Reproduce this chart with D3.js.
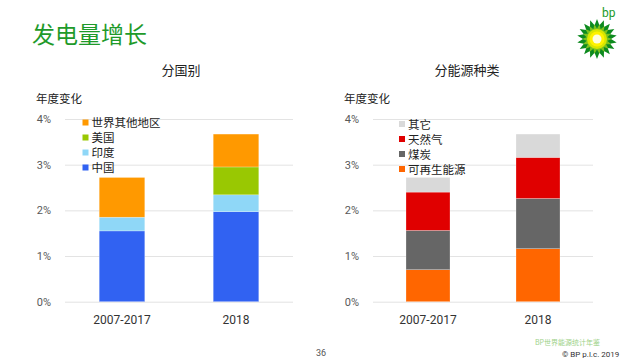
<!DOCTYPE html>
<html>
<head>
<meta charset="utf-8">
<script src="https://cdn.jsdelivr.net/npm/d3@7"></script>
<style>
  body { margin: 0; background: #fff; }
  svg { font-family: Roboto, "Noto Sans CJK SC", sans-serif; }
</style>
</head>
<body>
<svg id="chart" width="640" height="360"></svg>
<script>
// data
var periods = ['2007-2017', '2018'];
var yTicks = [0, 0.01, 0.02, 0.03, 0.04];

var regionNames = ['中国', '印度', '美国', '世界其他地区'];
var regionColors = ['#3162f2', '#8fd7f7', '#99c802', '#ff9900'];
var china = [0.0155, 0.0197];
var india = [0.0030, 0.0037];
var usa = [0.0000, 0.0061];
var restOfWorld = [0.0087, 0.0072];

var fuelNames = ['可再生能源', '煤炭', '天然气', '其它'];
var fuelColors = ['#ff6600', '#666666', '#e00000', '#d9d9d9'];
var renewables = [0.0070, 0.0116];
var coal = [0.0086, 0.0110];
var gas = [0.0084, 0.0090];
var other = [0.0032, 0.0051];

var svg = d3.select('#chart');

// title
svg.append('text').attr('x', 32).attr('y', 43)
  .attr('font-size', 23).attr('fill', '#1e9a2a')
  .attr('font-family', '"Noto Sans CJK SC"')
  .text('发电量增长');

function drawPanel(opts) {
  var y = d3.scaleLinear().domain([0, 0.04]).range([301.7, 119]);
  var x = d3.scaleBand().domain(periods).range([opts.x0, opts.x1])
    .paddingInner(0.6).paddingOuter(0.3);
  var g = svg.append('g');

  // panel title
  g.append('text').attr('x', opts.titleX).attr('y', 75)
    .attr('text-anchor', 'middle').attr('font-size', 13).attr('fill', '#222')
    .text(opts.title);
  g.append('text').attr('x', opts.x0 - 29).attr('y', 103)
    .attr('font-size', 11.5).attr('fill', '#222')
    .text('年度变化');

  // grid
  g.selectAll('.grid').data(yTicks).enter().append('line')
    .attr('x1', opts.x0).attr('x2', opts.x1)
    .attr('y1', function(d){ return y(d) + 0.5; })
    .attr('y2', function(d){ return y(d) + 0.5; })
    .attr('stroke', '#e3e3e3').attr('stroke-width', 1);

  var yAxis = g.append('g').attr('transform', 'translate(' + (opts.x0 - 11) + ',0)')
    .call(d3.axisLeft(y).tickValues(yTicks).tickSize(0).tickFormat(d3.format('.0%')));
  yAxis.select('.domain').remove();
  yAxis.selectAll('text').attr('font-size', 11).attr('fill', '#595959')
    .attr('font-family', 'Roboto, sans-serif');

  var xAxis = g.append('g').attr('transform', 'translate(0,' + 312 + ')')
    .call(d3.axisBottom(x).tickSize(0));
  xAxis.select('.domain').remove();
  xAxis.selectAll('text').attr('font-size', 12).attr('fill', '#333')
    .attr('font-family', 'Roboto, sans-serif');

  // stacked bars
  var rows = periods.map(function(p, i){
    var r = { period: p };
    opts.keys.forEach(function(k, j){ r[k] = opts.series[j][i]; });
    return r;
  });
  var stacked = d3.stack().keys(opts.keys)(rows);
  g.selectAll('.layer').data(stacked).enter().append('g')
    .attr('fill', function(d, i){ return opts.colors[i]; })
    .selectAll('rect').data(function(d){ return d; }).enter().append('rect')
    .attr('x', function(d){ return x(d.data.period); })
    .attr('width', x.bandwidth())
    .attr('y', function(d){ return y(d[1]); })
    .attr('height', function(d){ return Math.max(0, y(d[0]) - y(d[1])); })
    .attr('stroke', '#fff').attr('stroke-opacity', 0.5).attr('stroke-width', 0.5);

  // legend (reverse order, top = last series)
  var legend = g.selectAll('.leg').data(opts.keys.slice().reverse()).enter().append('g')
    .attr('transform', function(d, i){ return 'translate(' + opts.legX + ',' + (opts.legY + i * 15) + ')'; });
  legend.append('rect').attr('x', 0).attr('y', -3).attr('width', 6).attr('height', 6)
    .attr('fill', function(d){ return opts.colors[opts.keys.indexOf(d)]; });
  legend.append('text').attr('x', 9).attr('y', 4.5)
    .attr('font-size', 11.5).attr('fill', '#222')
    .attr('font-family', '"Noto Sans CJK SC"')
    .text(function(d){ return d; });
}

drawPanel({
  x0: 65, x1: 293, title: '分国别', titleX: 181,
  keys: regionNames, colors: regionColors,
  series: [china, india, usa, restOfWorld],
  legX: 82.5, legY: 122.5
});

drawPanel({
  x0: 373, x1: 593, title: '分能源种类', titleX: 467,
  keys: fuelNames, colors: fuelColors,
  series: [renewables, coal, gas, other],
  legX: 399, legY: 124
});

// bp logo
var logo = svg.append('g').attr('transform', 'translate(597,39)');
function star(n, rOut, rIn) {
  var pts = [];
  for (var i = 0; i < n * 2; i++) {
    var a = i * Math.PI / n - Math.PI / 2;
    var r = i % 2 === 0 ? rOut : rIn;
    pts.push([Math.cos(a) * r, Math.sin(a) * r]);
  }
  return d3.line().curve(d3.curveLinearClosed)(pts);
}
logo.append('path').attr('d', star(18, 20, 14)).attr('fill', '#0d8a1f');
logo.append('path').attr('d', star(18, 15, 10.5)).attr('fill', '#7cc21e')
  .attr('transform', 'rotate(10)');
logo.append('circle').attr('r', 10).attr('fill', '#d9e600');
logo.append('circle').attr('r', 7.5).attr('fill', '#fff200');
logo.append('circle').attr('r', 4.5).attr('fill', '#fffde0');
svg.append('text').attr('x', 602).attr('y', 17).attr('font-size', 12)
  .attr('fill', '#1a9a2a').attr('font-family', 'Roboto, sans-serif').text('bp');

// footer
svg.append('text').attr('x', 316).attr('y', 356).attr('font-size', 9)
  .attr('fill', '#555').attr('font-family', 'Roboto, sans-serif').text('36');
svg.append('text').attr('x', 535).attr('y', 345).attr('font-size', 7)
  .attr('fill', '#9ed28a').attr('font-family', '"Noto Sans CJK SC"').text('BP世界能源统计年鉴');
svg.append('text').attr('x', 562).attr('y', 357).attr('font-size', 8)
  .attr('fill', '#333').attr('font-family', 'Roboto, sans-serif').text('© BP p.l.c. 2019');
</script>
</body>
</html>
